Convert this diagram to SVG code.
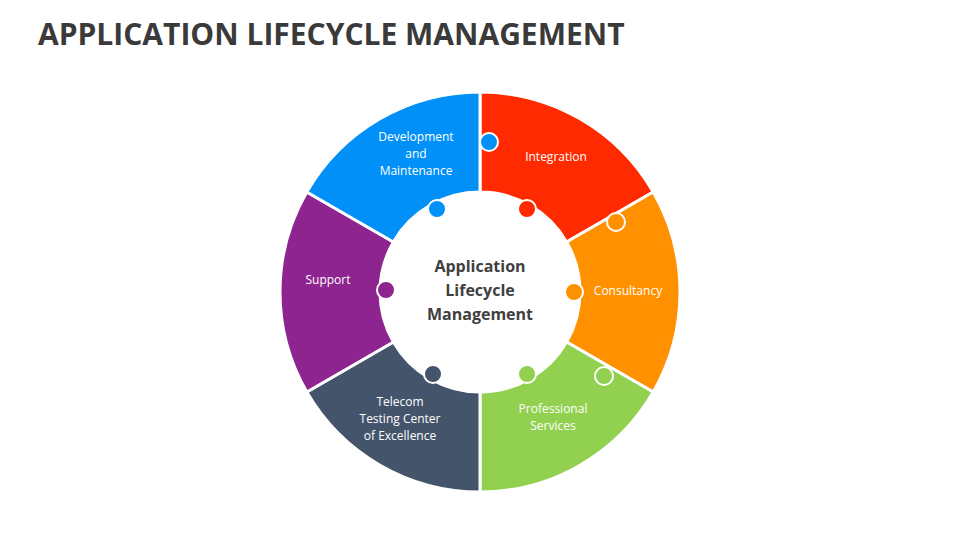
<svg xmlns="http://www.w3.org/2000/svg" width="960" height="540" viewBox="0 0 960 540">
<style>
.seg{stroke:#fff;stroke-width:3}
.lbl{font-family:"Open Sans","Liberation Sans",sans-serif;font-size:12px;fill:#fff;text-anchor:middle}
.k{stroke:#fff;stroke-width:2}
</style>
<rect width="960" height="540" fill="#fff"/>
<text x="38" y="45" font-family="Open Sans,Liberation Sans,sans-serif" font-weight="bold" font-size="30" fill="#3a3a3a">APPLICATION LIFECYCLE MANAGEMENT</text>
<g id="integration">
<path class="seg" fill="#FF2A00" d="M480,92 A200,200 0 0 1 653.2,192 L566.6,242 A100,100 0 0 0 480,192 Z"/>
<circle class="k" fill="#FF2A00" cx="527" cy="209" r="9"/>
<text class="lbl" x="556" y="161">Integration</text>
</g>
<g id="consultancy">
<path class="seg" fill="#FF9000" d="M653.2,192 A200,200 0 0 1 653.2,392 L566.6,342 A100,100 0 0 0 566.6,242 Z"/>
<circle class="k" fill="#FF9000" cx="574" cy="292" r="9"/>
<circle class="k" fill="#FF9000" cx="616" cy="222" r="9"/>
<text class="lbl" x="628" y="295">Consultancy</text>
</g>
<g id="professional">
<path class="seg" fill="#92D050" d="M653.2,392 A200,200 0 0 1 480,492 L480,392 A100,100 0 0 0 566.6,342 Z"/>
<circle class="k" fill="#92D050" cx="527" cy="374" r="9"/>
<circle class="k" fill="#92D050" cx="604" cy="376" r="9"/>
<circle class="k" fill="#92D050" cx="470" cy="442" r="9"/>
<text class="lbl" x="553" y="413">Professional</text>
<text class="lbl" x="553" y="430">Services</text>
</g>
<g id="telecom">
<path class="seg" fill="#44546A" d="M480,492 A200,200 0 0 1 306.8,392 L393.4,342 A100,100 0 0 0 480,392 Z"/>
<circle class="k" fill="#44546A" cx="433" cy="374" r="9"/>
<circle class="k" fill="#44546A" cx="344" cy="358" r="9"/>
<text class="lbl" x="400" y="406">Telecom</text>
<text class="lbl" x="400" y="423">Testing Center</text>
<text class="lbl" x="400" y="440">of Excellence</text>
</g>
<g id="support">
<path class="seg" fill="#8E2490" d="M306.8,392 A200,200 0 0 1 306.8,192 L393.4,242 A100,100 0 0 0 393.4,342 Z"/>
<circle class="k" fill="#8E2490" cx="386" cy="290" r="9"/>
<circle class="k" fill="#8E2490" cx="354" cy="209" r="9"/>
<text class="lbl" x="328" y="284">Support</text>
</g>
<g id="development">
<path class="seg" fill="#0090F8" d="M306.8,192 A200,200 0 0 1 480,92 L480,192 A100,100 0 0 0 393.4,242 Z"/>
<circle class="k" fill="#0090F8" cx="437" cy="209" r="9"/>
<circle class="k" fill="#0090F8" cx="489" cy="142" r="9"/>
<text class="lbl" x="416" y="141">Development</text>
<text class="lbl" x="416" y="158">and</text>
<text class="lbl" x="416" y="175">Maintenance</text>
</g>
<g id="center">
<text font-family="Open Sans,Liberation Sans,sans-serif" font-weight="bold" font-size="16" fill="#404040" text-anchor="middle"><tspan x="480" y="272">Application</tspan><tspan x="480" y="296">Lifecycle</tspan><tspan x="480" y="320">Management</tspan></text>
</g>
<g id="connectors"/>
</svg>
